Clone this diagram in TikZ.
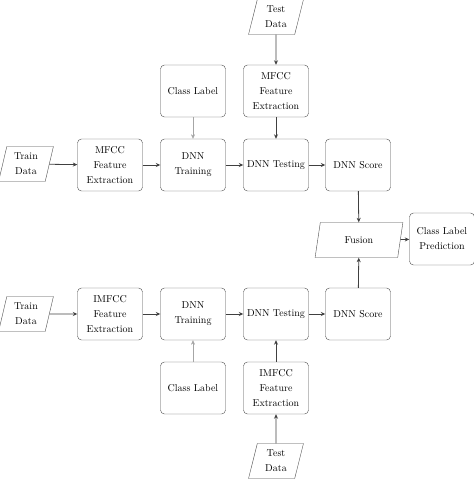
\documentclass[tikz,border=0pt]{standalone}
\usetikzlibrary{shapes.geometric,arrows.meta}

\begin{document}
\begin{tikzpicture}[x=1pt,y=-1pt,
        stage/.style = {draw=black!70, rounded corners=4pt, minimum width=65pt,
                        minimum height=52pt, align=center, font=\fontsize{10}{15}\selectfont},
        data/.style  = {draw=black!70, trapezium, trapezium left angle=77,
                        trapezium right angle=103, trapezium stretches=true,
                        minimum width=55pt, minimum height=35pt, inner sep=1pt,
                        align=center, font=\fontsize{10}{15}\selectfont},
        flow/.style  = {-{Stealth[length=4.5pt,width=4pt]}, draw=black!75, thick},
        hint/.style  = {-{Stealth[length=4.5pt,width=4pt]}, draw=black!35}]
    \useasboundingbox (0,0) rectangle (474,480);

    % upper branch (MFCC)
    \node[data]  (trainA) at (26,164) {Train\\Data};
    \node[stage] (featA)  at (110,165) {MFCC\\Feature\\Extraction};
    \node[stage] (trainDnnA) at (193,165) {DNN\\Training};
    \node[stage] (labelA) at (193,91) {Class Label};
    \node[stage] (testDnnA) at (276,165) {DNN Testing};
    \node[stage] (testFeatA) at (276,91) {MFCC\\Feature\\Extraction};
    \node[data]  (testA)  at (276,17) {Test\\Data};
    \node[stage] (scoreA) at (358,165) {DNN Score};

    % lower branch (IMFCC)
    \node[data]  (trainB) at (26,314) {Train\\Data};
    \node[stage] (featB)  at (110,314) {IMFCC\\Feature\\Extraction};
    \node[stage] (trainDnnB) at (193,314) {DNN\\Training};
    \node[stage] (labelB) at (193,388) {Class Label};
    \node[stage] (testDnnB) at (276,314) {DNN Testing};
    \node[stage] (testFeatB) at (276,388) {IMFCC\\Feature\\Extraction};
    \node[data]  (testB)  at (276,461) {Test\\Data};
    \node[stage] (scoreB) at (358,314) {DNN Score};

    % fusion
    \node[data, minimum width=88pt] (fusion) at (359,240) {Fusion};
    \node[stage] (predict) at (442,239) {Class Label\\Prediction};

    \draw[flow] (trainA) -- (featA);
    \draw[flow] (featA) -- (trainDnnA);
    \draw[hint] (labelA) -- (trainDnnA);
    \draw[flow] (trainDnnA) -- (testDnnA);
    \draw[flow] (testA) -- (testFeatA);
    \draw[flow] (testFeatA) -- (testDnnA);
    \draw[flow] (testDnnA) -- (scoreA);
    \draw[flow] (scoreA) -- (fusion);

    \draw[flow] (trainB) -- (featB);
    \draw[flow] (featB) -- (trainDnnB);
    \draw[hint] (labelB) -- (trainDnnB);
    \draw[flow] (trainDnnB) -- (testDnnB);
    \draw[flow] (testB) -- (testFeatB);
    \draw[flow] (testFeatB) -- (testDnnB);
    \draw[flow] (testDnnB) -- (scoreB);
    \draw[flow] (scoreB) -- (fusion);

    \draw[flow] (fusion) -- (predict);
\end{tikzpicture}
\end{document}
